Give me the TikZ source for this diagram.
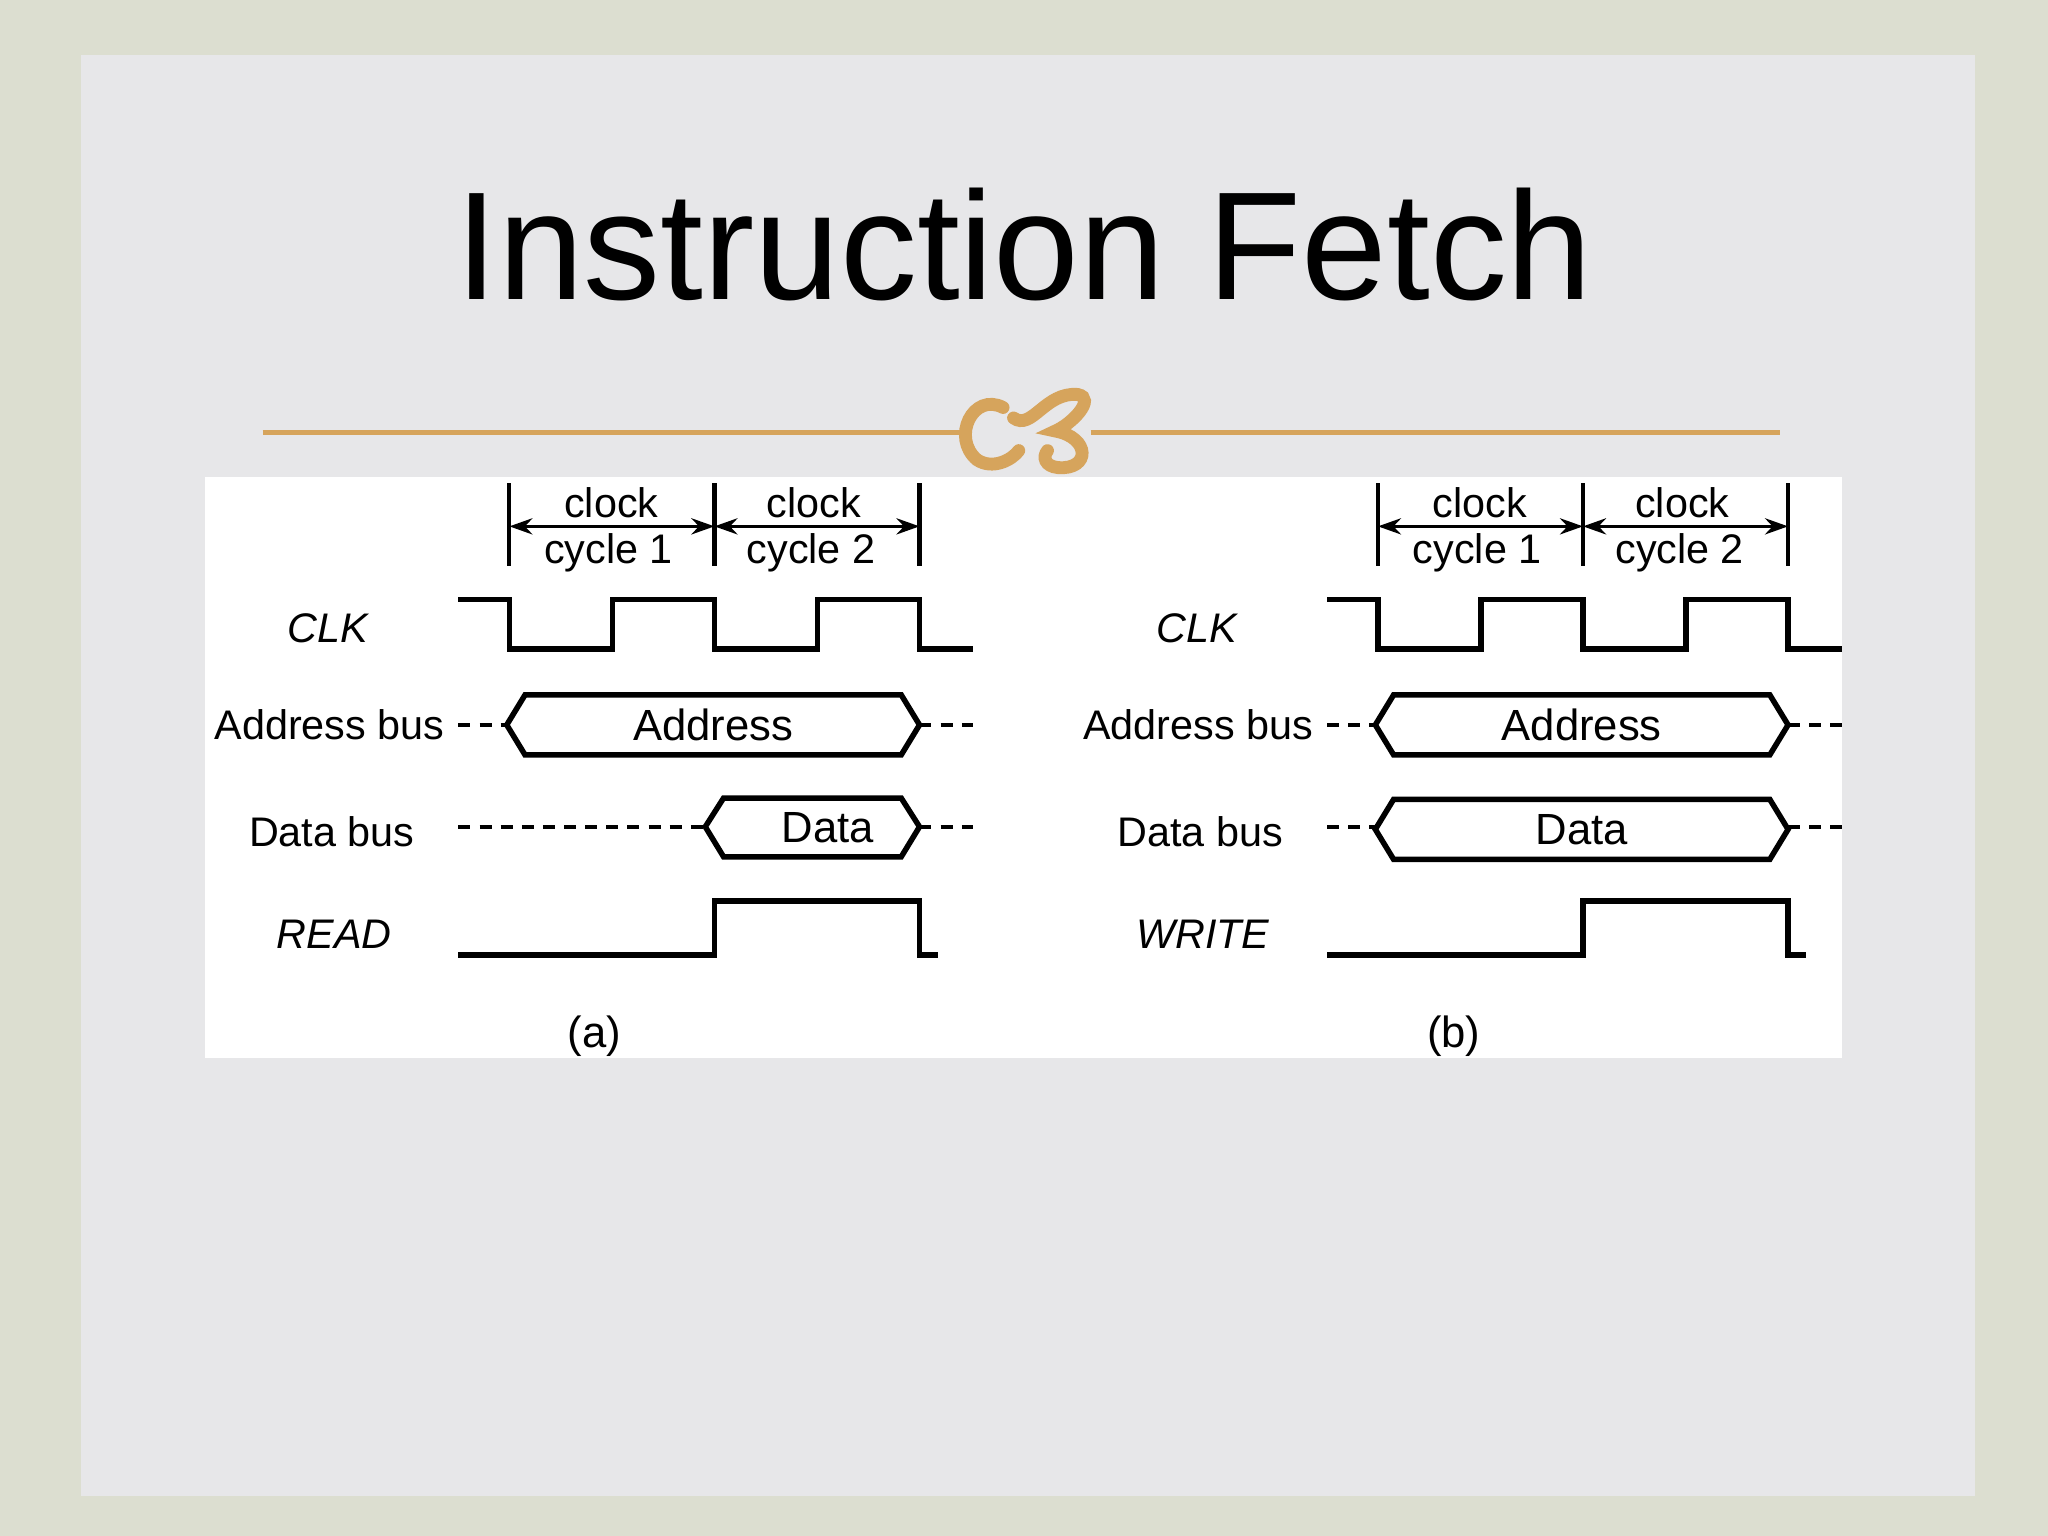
\documentclass[tikz,border=0pt]{standalone}
\usepackage{fontspec}
\setmainfont{Liberation Sans}
\usetikzlibrary{arrows.meta}
\definecolor{outerbg}{HTML}{DCDED0}
\definecolor{innerbg}{HTML}{E7E7E9}
\definecolor{gold}{HTML}{D6A45C}
\tikzset{
  wave/.style={line width=1.2pt,black},
  dsh/.style={line width=0.9pt,dash pattern=on 2.6pt off 2pt},
  lbl/.style={font=\fontsize{9}{11}\selectfont,inner sep=0pt},
  ilbl/.style={font=\fontsize{9}{11}\selectfont\itshape,inner sep=0pt},
  dim/.style={line width=0.8pt,-{Stealth[length=5pt,width=3.5pt]}},
}
\newcommand\tpanel[4]{% #1 shift, #2 name prefix, #3 signal label, #4 full data
\begin{scope}[xshift=#1*0.01cm]
 \foreach \x in {390,547,704} \draw[line width=0.9pt] (\x,370) -- (\x,433);
 \coordinate (#2c1) at (390,403); \coordinate (#2c2) at (547,403); \coordinate (#2c3) at (704,403);
 \coordinate (#2m1) at (468,403); \coordinate (#2m2) at (626,403);
 \draw[dim] (#2m1) -- (#2c1); \draw[dim] (#2m1) -- (#2c2);
 \draw[dim] (#2m2) -- (#2c2); \draw[dim] (#2m2) -- (#2c3);
 \node[lbl,fill=white,inner sep=1pt] (#2k1) at (468,385) {clock};
 \node[lbl,fill=white,inner sep=1pt] (#2y1) at (466,423) {cycle 1};
 \node[lbl,fill=white,inner sep=1pt] (#2k2) at (623,385) {clock};
 \node[lbl,fill=white,inner sep=1pt] (#2y2) at (621,423) {cycle 2};
 \node[ilbl] (#2clk) at (251,481) {CLK};
 \node[lbl,anchor=east] (#2ab) at (341,555) {Address bus};
 \node[lbl] (#2db) at (254,637) {Data bus};
 \node[ilbl] (#2rw) at (256,715) {#3};
 \draw[wave] (351,459) -- (390,459) -- (390,497) -- (469,497) -- (469,459) -- (547,459) -- (547,497) -- (626,497) -- (626,459) -- (704,459) -- (704,497) -- (745,497);
 \draw[dsh] (351,555) -- (388,555); \draw[dsh] (704,555) -- (745,555);
 \draw[wave] (388,555) -- (402,532) -- (690,532) -- (704,555) -- (690,578) -- (402,578) -- cycle;
 \node[lbl,font=\fontsize{9.5}{11}\selectfont] (#2addr) at (546,555) {Address};
 \ifnum#4=1
  \draw[dsh] (351,633) -- (388,633); \draw[dsh] (704,633) -- (745,633);
  \draw[wave] (388,635) -- (402,612) -- (690,612) -- (704,635) -- (690,658) -- (402,658) -- cycle;
  \node[lbl,font=\fontsize{9.5}{11}\selectfont] (#2data) at (546,635) {Data};
 \else
  \draw[dsh] (351,633) -- (540,633); \draw[dsh] (704,633) -- (745,633);
  \draw[wave] (540,633) -- (554,611) -- (690,611) -- (704,633) -- (690,656) -- (554,656) -- cycle;
  \node[lbl,font=\fontsize{9.5}{11}\selectfont] (#2data) at (634,634) {Data};
 \fi
 \draw[wave] (351,731) -- (547,731) -- (547,690) -- (704,690) -- (704,731) -- (718,731);
\end{scope}}
\begin{document}
\begin{tikzpicture}[x=0.01cm,y=-0.01cm]
\fill[outerbg] (0,0) rectangle (1568,1176);
\fill[innerbg] (62,42) rectangle (1512,1145);
\node[font=\fontsize{33.5}{36}\selectfont] (title) at (784,187) {Instruction Fetch};
\draw[gold,line width=1pt] (201,331) -- (735,331);
\draw[gold,line width=1pt] (835,331) -- (1363,331);
% ornament
\draw[gold,line width=2.8pt,line cap=round] (768,312) .. controls (745,300) and (728,335) .. (748,352) .. controls (760,360) and (775,352) .. (780,345);
\draw[gold,line width=2.8pt,line cap=round] (776,320) .. controls (790,330) and (800,300) .. (825,302) .. controls (840,305) and (820,325) .. (808,330) .. controls (835,335) and (835,360) .. (810,358) .. controls (800,357) and (798,350) .. (802,345);
\fill[white] (157,365) rectangle (1410,810);
\tpanel{0}{a}{READ}{0}
\tpanel{665}{b}{WRITE}{1}
\node[lbl,font=\fontsize{9.5}{12}\selectfont] (la) at (455,793) {(a)};
\node[lbl,font=\fontsize{9.5}{12}\selectfont] (lb) at (1113,793) {(b)};
\end{tikzpicture}
\end{document}
